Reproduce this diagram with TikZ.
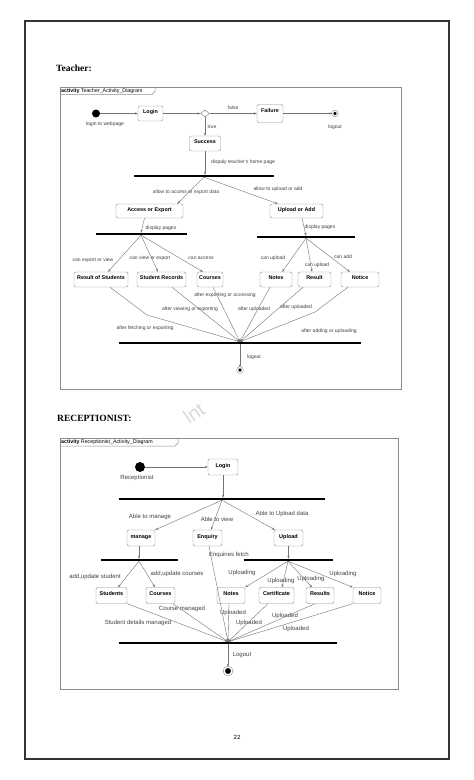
\documentclass[tikz,border=0pt]{standalone}
\usepackage{fontspec}
\setmainfont{Liberation Serif}
\setsansfont{Liberation Sans}
\newfontfamily\numfont{Carlito}
\usetikzlibrary{arrows.meta,shapes.geometric}
\begin{document}
\begin{tikzpicture}[x=1pt,y=-1pt,
  box/.style={draw=black!45,rounded corners=2pt,fill=white,minimum height=15pt,inner sep=0pt,
    font=\sffamily\bfseries\fontsize{5.4}{6.4}\selectfont,text height=3.9pt,text depth=3.9pt},
  rbox/.style={box,minimum height=16pt,font=\sffamily\bfseries\fontsize{5.5}{6.5}\selectfont,text height=4pt,text depth=4pt},
  bar/.style={fill=black,minimum height=2pt,inner sep=0pt},
  startdot/.style={circle,fill=black,minimum size=8pt,inner sep=0pt},
  fin/.style={circle,fill=black,minimum size=5pt,inner sep=0pt,draw=black!55,double=white,double distance=1.1pt,line width=0.4pt},
  flow/.style={draw=black!55,line width=0.4pt,-{Stealth[length=3pt,width=2.2pt]}},
  lbl/.style={font=\sffamily\fontsize{5}{6}\selectfont,text=black!75,inner sep=0pt},
  rlbl/.style={lbl,font=\sffamily\fontsize{6}{7}\selectfont},
  framecap/.style={font=\sffamily\fontsize{5.3}{6}\selectfont,inner sep=0pt,anchor=west},
  headtxt/.style={font=\bfseries\fontsize{9.5}{11}\selectfont,inner sep=0pt,anchor=west}]
\useasboundingbox (0,0) rectangle (474,780);
\fill[white] (0,0) rectangle (474,780);
\draw[line width=1.6pt,black!80] (25,21) rectangle (449,759);

\node[headtxt] (tteacher) at (56,68) {Teacher:};
\node[headtxt] (trecep) at (57,418) {RECEPTIONIST:};
\node[font=\sffamily\fontsize{20}{22}\selectfont,text=black!14,rotate=35,inner sep=0pt] (wmark) at (194,413) {lnt};
\node[font=\numfont\fontsize{6.5}{8}\selectfont,inner sep=0pt] (pnum) at (237,737) {22};

% teacher
\draw[black!45,line width=0.5pt] (60,87) rectangle (401,389);
\draw[black!45,line width=0.5pt] (60,94.5) -- (152,94.5) -- (155,91.5) -- (155,87);
\node[framecap] (cap1) at (61,91) {\textbf{activity} Teacher\_Activity\_Diagram};

\node[startdot] (start1) at (96,113.5) {};
\node[box,minimum width=25pt] (login1) at (150.5,113.5) {Login};
\node[diamond,draw=black!55,fill=white,minimum width=9pt,minimum height=7pt,inner sep=0pt] (dec1) at (205,113.5) {};
\node[box,minimum width=26pt,minimum height=18pt,text depth=6pt] (fail1) at (270,113.5) {Failure};
\node[fin] (end1) at (335,113.5) {};
\node[box,minimum width=31pt] (succ1) at (205,143.5) {Success};
\node[bar,minimum width=140pt] (fork1) at (204,176) {};
\node[box,minimum width=67pt,minimum height=14pt] (access1) at (149.5,211) {Access or Export};
\node[box,minimum width=53pt,minimum height=14pt] (upload1) at (296.5,211) {Upload or Add};
\node[bar,minimum width=91pt] (forkA) at (141,234) {};
\node[bar,minimum width=98pt] (forkB) at (306,237) {};
\node[box,minimum width=54pt] (rstu) at (101,279.5) {Result of Students};
\node[box,minimum width=49pt] (srec) at (161.5,279.5) {Student Records};
\node[box,minimum width=26pt] (crs1) at (210,279.5) {Courses};
\node[box,minimum width=32pt] (notes1) at (276,279.5) {Notes};
\node[box,minimum width=33pt] (res1) at (314.5,279.5) {Result};
\node[box,minimum width=38pt] (notice1) at (360,279.5) {Notice};
\node[bar,minimum width=242pt] (join1) at (240,343) {};
\node[fin] (end2) at (240,370) {};
\coordinate (bend1) at (147,315);
\coordinate (bend2) at (315,312);

\node[lbl] (llogin) at (105,124) {login to webpage};
\node[lbl] (lfalse) at (233,108) {false};
\node[lbl] (llogout1) at (335,127) {logout};
\node[lbl] (ltrue) at (212,127) {true};
\node[lbl] (lhome) at (243,162) {dispaly teacher's home page};
\node[lbl] (lacc) at (186,192) {allow to access or export data};
\node[lbl] (lupl) at (278,189) {allow to upload or add};
\node[lbl] (ldisp1) at (161,228) {display pages};
\node[lbl] (ldisp2) at (320,227) {display pages};
\node[lbl] (lcev) at (93,260) {can export or view};
\node[lbl] (lcve) at (150,258) {can view or export};
\node[lbl] (lcac) at (201,258) {can access};
\node[lbl] (lcup1) at (273,258) {can upload};
\node[lbl] (lcup2) at (317,265) {can upload};
\node[lbl] (lcadd) at (343,257) {can add};
\node[lbl] (laea) at (225,295) {after exporting or accessing};
\node[lbl] (lave) at (190,309) {after viewing or exporting};
\node[lbl] (lau1) at (254,309) {after uploaded};
\node[lbl] (lau2) at (296,307) {after uploaded};
\node[lbl] (lafe) at (145,328) {after fetching or exporting};
\node[lbl] (laau) at (329,331) {after adding or uploading};
\node[lbl] (llogout2) at (254,357) {logout};

\path[flow] (start1) -- (login1);
\path[flow] (login1) -- (dec1);
\path[flow] (dec1) -- (fail1);
\path[flow] (fail1) -- (end1);
\path[flow] (dec1) -- (succ1);
\path[flow] (succ1) -- (succ1 |- fork1.north);
\path[flow] (fork1.south) -- ([xshift=-6pt]access1.north east);
\path[flow] (fork1.south) -- ([xshift=8pt]upload1.north west);
\path[flow] ([xshift=-5pt]access1.south) -- (forkA.north);
\path[flow] ([xshift=5.5pt]upload1.south) -- (forkB.north);
\path[flow] (forkA.south) -- ([xshift=7pt]rstu.north);
\path[flow] (forkA.south) -- ([xshift=-3.5pt]srec.north);
\path[flow] (forkA.south) -- ([xshift=6pt]crs1.north west);
\path[flow] (forkB.south) -- ([xshift=-10pt]notes1.north east);
\path[flow] (forkB.south) -- ([xshift=-2.5pt]res1.north);
\path[flow] (forkB.south) -- ([xshift=9pt]notice1.north west);
\path[flow] ([xshift=9pt]rstu.south) -- (bend1) -- (join1.north);
\path[flow] ([xshift=10.5pt]srec.south) -- (join1.north);
\path[flow] ([xshift=3pt]crs1.south) -- (join1.north);
\path[flow] ([xshift=-6pt]notes1.south) -- (join1.north);
\path[flow] ([xshift=-11.5pt]res1.south) -- (join1.north);
\path[flow] ([xshift=-12pt]notice1.south) -- (bend2) -- (join1.north);
\path[flow] (join1.south) -- (end2);

% receptionist
\draw[black!45,line width=0.5pt] (60,438) rectangle (398,689);
\draw[black!45,line width=0.5pt] (60,446) -- (175,446) -- (178,443) -- (178,438);
\node[framecap] (cap2) at (61,442.2) {\textbf{activity} Receptionist\_Activity\_Diagram};

\node[startdot,minimum size=10pt] (start2) at (140,467) {};
\node[rbox,minimum width=30pt] (login2) at (223,467) {Login};
\node[bar,minimum width=206pt] (fork2) at (222,499) {};
\node[rbox,minimum width=28pt] (manage2) at (141,538) {manage};
\node[rbox,minimum width=29pt] (enquiry2) at (207.5,538) {Enquiry};
\node[rbox,minimum width=29pt] (upload2) at (288.5,538) {Upload};
\node[bar,minimum width=77pt] (forkC) at (139,560) {};
\node[bar,minimum width=89pt] (forkD) at (288,560) {};
\node[rbox,minimum width=31pt] (stu2) at (111.5,595.5) {Students};
\node[rbox,minimum width=29pt] (crs2) at (160.5,595.5) {Courses};
\node[rbox,minimum width=28pt] (notes2) at (231,595.5) {Notes};
\node[rbox,minimum width=35pt] (cert2) at (276.5,595.5) {Certificate};
\node[rbox,minimum width=28pt] (results2) at (320,595.5) {Results};
\node[rbox,minimum width=28pt] (notice2) at (367,595.5) {Notice};
\node[bar,minimum width=218pt] (join2) at (228,643) {};
\node[fin,minimum size=8pt,double distance=1.3pt] (end3) at (228,671) {};

\node[rlbl] (lrecep) at (137,478) {Receptionist};
\node[rlbl] (lman) at (150,517) {Able to manage};
\node[rlbl] (lview) at (217,519) {Able to view};
\node[rlbl] (lupd) at (282,514) {Able to Upload data};
\node[rlbl] (lfetch) at (229,555) {Enquiries fetch};
\node[rlbl] (lstu) at (95,577) {add,update student};
\node[rlbl] (lcrs) at (177,574) {add,update courses};
\node[rlbl] (lup1) at (242,573) {Uploading};
\node[rlbl] (lup2) at (281,581) {Uploading};
\node[rlbl] (lup3) at (311,579) {Uploading};
\node[rlbl] (lup4) at (343,574) {Uploading};
\node[rlbl] (lcman) at (182,609) {Course managed};
\node[rlbl] (lsman) at (138,623) {Student details managed};
\node[rlbl] (lupd1) at (233,613) {Uploaded};
\node[rlbl] (lupd2) at (249,623) {Uploaded};
\node[rlbl] (lupd3) at (285,616) {Uploaded};
\node[rlbl] (lupd4) at (296,629) {Uploaded};
\node[rlbl] (llogout3) at (242,655) {Logout};

\path[flow] (start2) -- (login2);
\path[flow] (login2) -- (login2 |- fork2.north);
\path[flow] (fork2.south) -- (manage2.north east);
\path[flow] (fork2.south) -- ([xshift=3.5pt]enquiry2.north);
\path[flow] (fork2.south) -- ([xshift=1pt]upload2.north west);
\path[flow] ([xshift=-2pt]manage2.south) -- (forkC.north);
\path[flow] (upload2) -- (upload2 |- forkD.north);
\path[flow] (forkC.south) -- ([xshift=6.5pt]stu2.north);
\path[flow] (forkC.south) -- ([xshift=-5.5pt]crs2.north);
\path[flow] (forkD.south) -- (notes2.north east);
\path[flow] (forkD.south) -- ([xshift=5.5pt]cert2.north);
\path[flow] (forkD.south) -- ([xshift=-8pt]results2.north);
\path[flow] (forkD.south) -- (notice2.north west);
\path[flow] ([xshift=1.5pt]enquiry2.south) -- (join2.north);
\path[flow] (stu2.south east) -- (join2.north);
\path[flow] ([xshift=12.5pt]crs2.south) -- (join2.north);
\path[flow] ([xshift=-2pt]notes2.south) -- (join2.north);
\path[flow] ([xshift=-8.5pt]cert2.south) -- (join2.north);
\path[flow] ([xshift=-5pt]results2.south) -- (join2.north);
\path[flow] (notice2.south west) -- (join2.north);
\path[flow] (join2.south) -- (end3);
\end{tikzpicture}
\end{document}
